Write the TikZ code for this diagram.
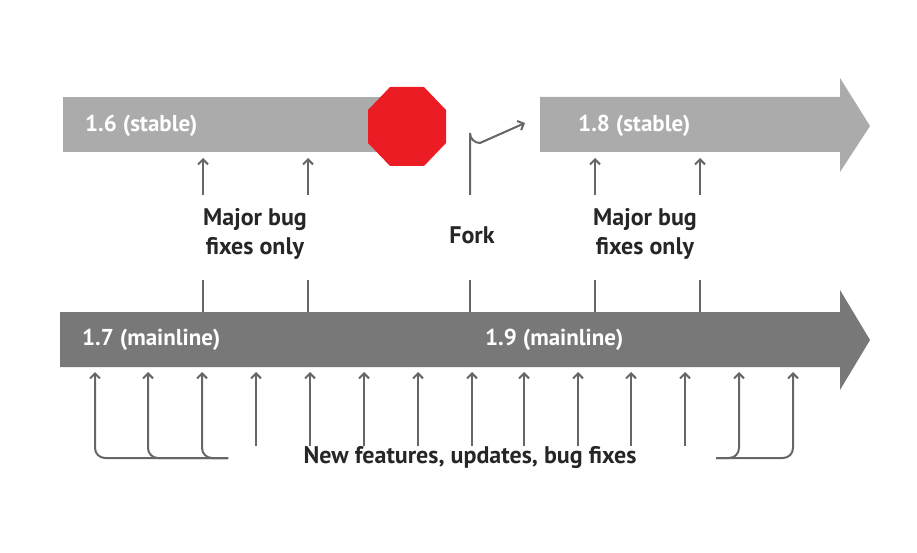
\documentclass[tikz,border=0pt]{standalone}
\usepackage{fontspec}
\setmainfont{PT Sans}
\begin{document}
\begin{tikzpicture}[x=1pt,y=-1pt,
  lbl/.style={font=\bfseries\fontsize{23}{26}\selectfont,text=white,inner sep=0},
  blk/.style={font=\bfseries\fontsize{24}{29}\selectfont,text=black!85,inner sep=0,align=center},
  ar/.style={draw=black!60,line width=2pt,->,>={Straight Barb[length=5pt,width=10pt]}},
  ln/.style={draw=black!60,line width=2pt}]
\usetikzlibrary{arrows.meta}
\useasboundingbox (0,0) rectangle (917,553);
\fill[black!33] (63,97) rectangle (400,152);
\fill[black!33] (540,97) -- (840,97) -- (840,78) -- (870,126) -- (840,172) -- (840,152) -- (540,152) -- cycle;
\fill[black!53] (60,312) -- (840,312) -- (840,290) -- (870,340) -- (840,390) -- (840,367) -- (60,367) -- cycle;
\fill[red!85!black!95, fill={rgb,255:red,236;green,28;blue,36}] (390,87) -- (424,87) -- (446,110) -- (446,143) -- (424,166) -- (390,166) -- (368,143) -- (368,110) -- cycle;
\node[lbl,anchor=west] (s16) at (85,126) {1.6 (stable)};
\node[lbl,anchor=west] (s18) at (578,126) {1.8 (stable)};
\node[lbl,anchor=west] (m17) at (82,340) {1.7 (mainline)};
\node[lbl,anchor=west] (m19) at (485,340) {1.9 (mainline)};
\node[blk] (mb1) at (255,234) {Major bug\\fixes only};
\node[blk] (mb2) at (645,234) {Major bug\\fixes only};
\node[blk] (fork) at (472,235) {Fork};
\node[blk] (nf) at (470,458) {New features, updates, bug fixes};
\foreach \x in {203,308,595,700}{
  \draw[ln] (\x,312) -- (\x,280);
  \draw[ar] (\x,195) -- (\x,158);}
\draw[ln] (470,312) -- (470,280);
\draw[ar] (470,195) -- (470,133) arc[start angle=180,end angle=90,radius=10] -- (525,123);
\foreach \x in {256,310,364,418,472,524,578,631,685}{
  \draw[ar] (\x,446) -- (\x,372);}
\foreach \x in {95,148,202}{
  \draw[ar] (228,458) -- (\x+10,458) arc[start angle=90,end angle=180,radius=10] -- (\x,372);}
\foreach \x in {739,793}{
  \draw[ar] (716,458) -- (\x-10,458) arc[start angle=90,end angle=0,radius=10] -- (\x,372);}
\end{tikzpicture}
\end{document}
